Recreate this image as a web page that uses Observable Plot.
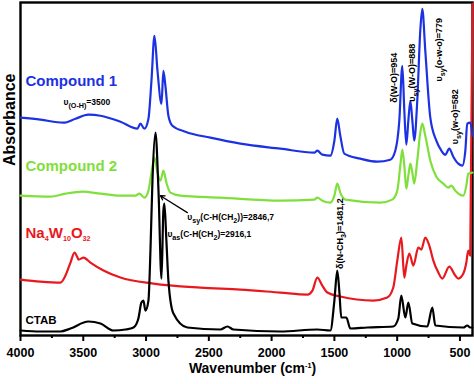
<!DOCTYPE html>
<html><head><meta charset="utf-8">
<script src="https://cdn.jsdelivr.net/npm/d3@7"></script>
<script src="https://cdn.jsdelivr.net/npm/@observablehq/plot@0.6"></script>
<style>body{margin:0;background:#fff;}</style>
</head><body><div id="chart"></div>
<script>
// [wavenumber (cm-1), absorbance (a.u.)]
const compound1 = [[4000,65.4],[3841,64.8],[3658,63.9],[3562,65.1],[3459,66.3],[3363,66.0],[3204,64.2],[3069,62.1],[3045,63.6],[3013,62.1],[2981,65.1],[2957,76.5],[2933,90.0],[2909,79.5],[2877,69.6],[2862,79.5],[2846,75.0],[2822,66.0],[2790,63.0],[2687,61.2],[2488,59.4],[2249,57.6],[1930,56.1],[1660,54.9],[1636,55.5],[1596,54.3],[1532,54.0],[1500,58.5],[1477,65.1],[1453,60.0],[1421,54.6],[1294,53.1],[1158,52.2],[1055,52.8],[1015,55.5],[983,64.5],[959,81.0],[943,67.5],[927,57.3],[911,64.5],[895,70.5],[879,64.5],[864,58.5],[840,70.5],[816,91.5],[800,98.1],[776,85.5],[736,65.4],[688,58.5],[648,55.5],[617,54.3],[585,56.1],[553,53.7],[513,51.6],[481,51.0],[457,55.5],[442,63.6],[418,63.9],[400,60.0]];
const compound2 = [[4000,42.0],[3761,41.7],[3642,42.6],[3506,43.2],[3363,42.6],[3204,42.0],[3085,42.0],[3053,42.6],[3013,41.4],[2981,43.5],[2957,48.9],[2933,53.4],[2909,48.9],[2885,46.5],[2862,49.5],[2838,45.9],[2806,42.9],[2726,42.0],[2408,41.4],[1930,40.5],[1660,40.8],[1636,41.4],[1596,40.5],[1532,39.9],[1500,42.0],[1477,45.6],[1453,42.9],[1413,40.8],[1134,39.9],[1039,40.8],[999,43.5],[975,51.0],[959,55.8],[943,51.0],[927,44.1],[911,48.0],[895,51.6],[879,48.9],[864,45.6],[840,52.5],[816,60.9],[800,63.6],[776,60.0],[736,52.5],[688,47.7],[633,45.6],[593,44.4],[569,45.0],[537,43.5],[473,42.0],[449,45.0],[434,48.6],[400,48.9]];
const na4w10o32 = [[4000,16.8],[3841,16.2],[3682,15.9],[3642,18.0],[3602,21.9],[3570,24.9],[3546,23.4],[3538,22.8],[3498,23.4],[3443,21.9],[3339,19.5],[3204,17.4],[2941,15.6],[2567,14.4],[2249,13.8],[1930,12.9],[1715,12.3],[1675,13.5],[1636,17.4],[1596,15.0],[1556,12.9],[1453,11.7],[1190,10.5],[1079,11.4],[1031,14.4],[999,22.5],[967,29.4],[943,17.4],[927,21.0],[903,24.6],[871,21.0],[832,26.4],[808,25.8],[776,29.4],[744,27.0],[712,22.5],[672,18.9],[641,17.1],[585,20.7],[537,18.0],[513,17.1],[473,18.6],[449,21.9],[434,25.5],[418,24.0],[400,99.6]];
const ctab = [[4000,1.5],[3841,1.2],[3682,1.2],[3602,2.1],[3459,4.2],[3363,3.6],[3260,1.5],[3164,1.8],[3100,2.4],[3061,5.1],[3037,9.9],[3021,10.5],[3005,7.5],[2981,10.5],[2965,25.5],[2949,46.5],[2925,60.9],[2901,43.5],[2877,17.1],[2862,37.5],[2854,39.6],[2838,28.5],[2822,16.5],[2782,6.6],[2671,2.4],[2408,1.8],[2352,2.7],[2304,1.8],[1930,1.2],[1636,1.8],[1532,1.5],[1500,10.5],[1477,19.5],[1461,13.5],[1445,5.4],[1405,5.4],[1373,2.1],[1237,2.4],[1031,2.7],[991,5.1],[967,12.0],[935,5.4],[911,9.9],[879,3.6],[760,2.7],[720,8.4],[696,3.0],[473,2.4],[442,3.0],[418,2.4],[400,2.4]];

const seriesNames = ["Na4W10O32", "Compound 2", "Compound 1", "CTAB"];
const seriesColors = ["#e8191e", "#7fe03c", "#1c32e2", "#000000"];
const seriesLabels = [
  {name: "Compound 1", text: "Compound 1", wn: 3960, abs: 76.5},
  {name: "Compound 2", text: "Compound 2", wn: 3960, abs: 50.7},
  {name: "Na4W10O32", text: "Na_{4}W_{10}O_{32}", wn: 3960, abs: 30.6}
];
const ctabLabel = [{text: "CTAB", wn: 3960, abs: 4.5}];
const majorTicks = [4000, 3500, 3000, 2500, 2000, 1500, 1000, 500];
const minorTicks = [3750, 3250, 2750, 2250, 1750, 1250, 750];

const flatNotes = [
  {wn: 3658, abs: 69.9, text: "υ_{(O-H)}=3500"},
  {wn: 2671, abs: 35.4, text: "υ_{sy}(C-H(CH_{2}))=2846,7"},
  {wn: 2830, abs: 30.3, text: "υ_{as}(C-H(CH_{2})=2916,1"}
];
const rotatedNotes = [
  {wn: 1453, abs: 30.6, text: "δ(N-CH_{3})=1481,2"},
  {wn: 1023, abs: 77.4, text: "δ(W-O)=954"},
  {wn: 880, abs: 78.9, text: "υ_{sy}(W-O)=888"},
  {wn: 669, abs: 85.8, text: "υ_{sy}(o-w-o)=779"},
  {wn: 537, abs: 65.7, text: "υ_{sy}(w-o)=582"}
];
const arrows = [{x1: 2671, y1: 36.9, x2: 2886, y2: 42.0}];

const seriesData = [na4w10o32, compound2, compound1, ctab];
const rows = seriesData.flatMap((s, i) => s.map(([wn, abs]) => ({series: seriesNames[i], wn, abs})));

const svg = Plot.plot({
  width: 474, height: 384,
  marginLeft: 20, marginRight: 2, marginTop: 2, marginBottom: 49,
  style: {fontFamily: "'Liberation Sans', Arial, sans-serif", background: "#fff"},
  x: {domain: [4000, 400]},
  y: {domain: [0, 100], axis: null},
  color: {domain: seriesNames, range: seriesColors},
  marks: [
    Plot.frame({stroke: "#000", strokeWidth: 2.4}),
    Plot.axisX({ticks: minorTicks, tickSize: 3, tickFormat: () => "", strokeWidth: 2, label: null}),
    Plot.axisX({ticks: majorTicks, tickSize: 6, tickPadding: 7, tickFormat: d => String(d), fontSize: 12.5, fontWeight: "bold", strokeWidth: 2, label: null, fill: "#000"}),
    Plot.line(rows, {x: "wn", y: "abs", z: "series", stroke: "series", strokeWidth: 2.2, curve: "monotone-x"}),
    Plot.text(seriesLabels, {x: "wn", y: "abs", text: "text", fill: "name", textAnchor: "start", fontSize: 15, fontWeight: "bold"}),
    Plot.text(ctabLabel, {x: "wn", y: "abs", text: "text", fill: "#000", textAnchor: "start", fontSize: 11.5, fontWeight: "bold"}),
    Plot.text(flatNotes, {x: "wn", y: "abs", text: "text", fill: "#000", textAnchor: "start", fontSize: 8.5, fontWeight: "bold"}),
    Plot.text(rotatedNotes, {x: "wn", y: "abs", text: "text", fill: "#000", rotate: -90, textAnchor: "middle", fontSize: 9, fontWeight: "bold"}),
    Plot.arrow(arrows, {x1: "x1", y1: "y1", x2: "x2", y2: "y2", stroke: "#000", strokeWidth: 1.2, headLength: 6}),
    Plot.text(["Wavenumber (cm^{-1})"], {frameAnchor: "bottom", dx: 6, dy: 37, fontSize: 14, fontWeight: "bold", fill: "#000"}),
    Plot.text(["Absorbance"], {frameAnchor: "left", rotate: -90, dx: -11, dy: -3, fontSize: 16, fontWeight: "bold", fill: "#000"})
  ]
});

// Rich text: _{...} subscript, ^{...} superscript
const NS = "http://www.w3.org/2000/svg";
d3.select(svg).selectAll("text").each(function() {
  const s = this.textContent;
  if (!/[_^]\{/.test(s)) return;
  const fs = parseFloat(getComputedStyle(this).fontSize) || 10;
  const parts = [];
  const re = /([_^])\{([^}]*)\}/g;
  let last = 0, m;
  while ((m = re.exec(s))) {
    if (m.index > last) parts.push({t: s.slice(last, m.index), k: ""});
    parts.push({t: m[2], k: m[1]});
    last = re.lastIndex;
  }
  if (last < s.length) parts.push({t: s.slice(last), k: ""});
  while (this.firstChild) this.removeChild(this.firstChild);
  let cur = 0;
  for (const p of parts) {
    const target = p.k === "_" ? fs * 0.3 : p.k === "^" ? -fs * 0.42 : 0;
    const ts = document.createElementNS(NS, "tspan");
    if (target - cur !== 0) ts.setAttribute("dy", (target - cur).toFixed(2));
    cur = target;
    if (p.k) ts.setAttribute("font-size", (fs * 0.72).toFixed(2));
    ts.textContent = p.t;
    this.appendChild(ts);
  }
});

document.getElementById("chart").appendChild(svg);
</script>
</body></html>
